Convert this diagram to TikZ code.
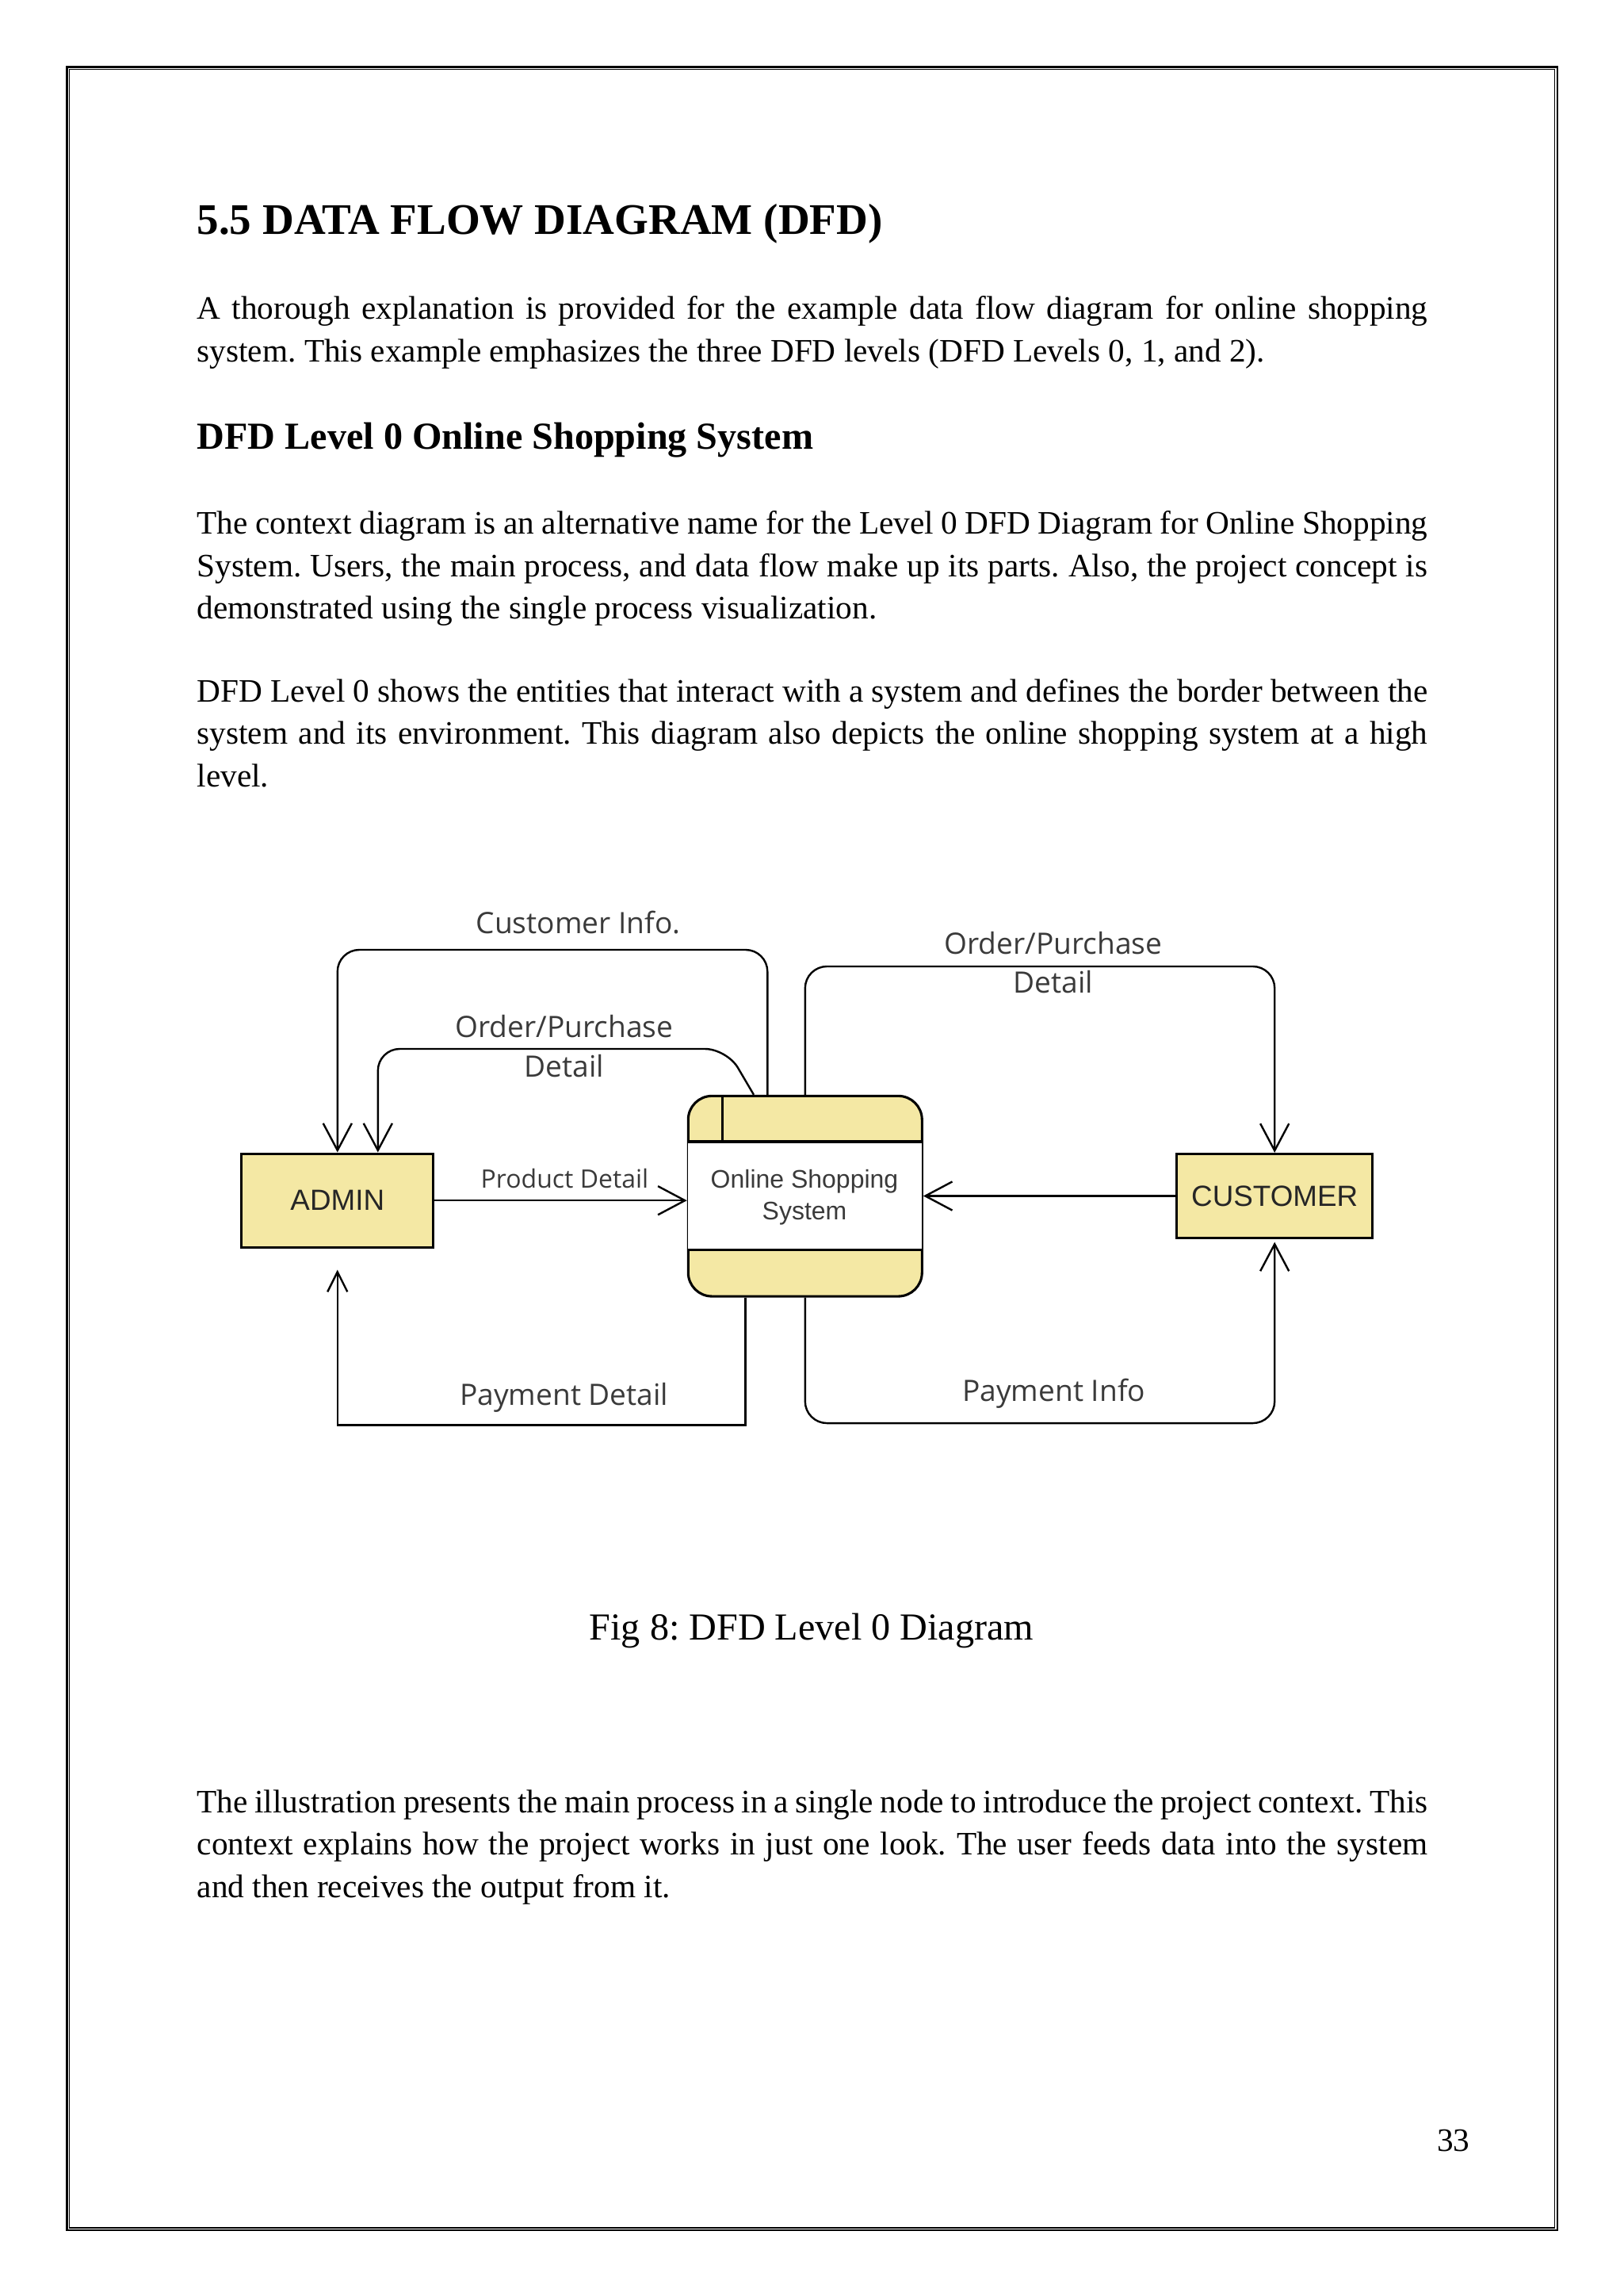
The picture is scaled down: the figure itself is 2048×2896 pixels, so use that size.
\documentclass[tikz,border=0pt]{standalone}
\usepackage{fontspec}
\setmainfont{Liberation Serif}
\newfontfamily\flowfont{Open Sans}
\newfontfamily\boxfont{Liberation Sans}
\usetikzlibrary{arrows.meta, calc}
\definecolor{dyellow}{HTML}{F4E8A4}
\definecolor{dgray}{HTML}{3A3A3A}
\newlength{\pxu}
\setlength{\pxu}{0.29067pt}
\frenchspacing
\tikzset{
entity/.style = {%
    rectangle, draw, line width=0.9pt, fill=dyellow,
    inner sep=0pt, font=\boxfont\fontsize{10.7}{13}\selectfont,
    text=black!85},
process/.style = {%
    rectangle, draw, line width=0.9pt, fill=dyellow, rounded corners=8.7pt,
    minimum width=295\pxu, minimum height=252.7\pxu, inner sep=0pt},
flow/.style = {%
    draw, line width=0.7pt, rounded corners=8pt,
    -{Straight Barb[length=9.9pt, width=10.5pt]}},
flowtext/.style = {%
    anchor=base, align=center, inner sep=0pt, text=dgray,
    font=\flowfont\fontsize{10.8}{14.4}\selectfont},
para/.style = {%
    anchor=base west, inner sep=0pt, text width=451.3pt, align=justify,
    font=\fontsize{12}{15.6}\selectfont}
}

\begin{document}
\begin{tikzpicture}[x=0.29067pt, y=-0.29067pt]
    % Page frame
    \useasboundingbox (0,0) rectangle (2048,2896);
    \draw[line width=0.6pt] (84.5,84.5) rectangle (1965,2813.3);
    \draw[line width=0.4pt] (87.8,87.8) rectangle (1961.7,2810);

    % Heading and text above the figure
    \node[anchor=base west, inner sep=0pt, font=\bfseries\fontsize{16}{19}\selectfont] (title) at (248,295) {5.5 DATA FLOW DIAGRAM (DFD)};
    \node[para] (intro) at (248,402.7) {A thorough explanation is provided for the example data flow diagram for online shopping\linebreak system. This example emphasizes the three DFD levels (DFD Levels 0, 1, and 2).};
    \node[anchor=base west, inner sep=0pt, font=\bfseries\fontsize{14}{17}\selectfont] (subtitle) at (248,566.8) {DFD Level 0 Online Shopping System};
    \node[para] (context) at (248,673.4) {The context diagram is an alternative name for the Level 0 DFD Diagram for Online Shopping\linebreak System. Users, the main process, and data flow make up its parts. Also, the project concept is\linebreak demonstrated using the single process visualization.};
    \node[para] (levelzero) at (248,885.3) {DFD Level 0 shows the entities that interact with a system and defines the border between the\linebreak system and its environment. This diagram also depicts the online shopping system at a high\linebreak level.};

    % Entities and the process
    \node[entity, minimum width=241.8\pxu, minimum height=118.3\pxu] (admin) at (425.8,1514.2) {ADMIN};
    \node[entity, minimum width=246.9\pxu, minimum height=106.2\pxu] (cust) at (1608.2,1508.5) {CUSTOMER};
    \node[process] (proc) at (1015.8,1508.7) {};

    % Process bands
    \coordinate (bandtop) at (0,1440);
    \coordinate (bandbot) at (0,1576.7);
    \fill[white] ([xshift=0.45pt]proc.west |- bandtop) rectangle ([xshift=-0.45pt]proc.east |- bandbot);
    \draw[line width=0.9pt] (proc.west |- bandtop) -- (proc.east |- bandtop);
    \draw[line width=0.9pt] (proc.west |- bandbot) -- (proc.east |- bandbot);
    \draw[line width=0.9pt] ([xshift=-104.1\pxu]proc.north) -- ([xshift=-104.1\pxu]proc.north |- bandtop);
    \node[anchor=base, inner sep=0pt, align=center, text=dgray,
          font=\boxfont\fontsize{9.3}{11.6}\selectfont] (proctext) at (1015,1538.3) {Online Shopping\\System};

    % Data flows
    \draw[flow] ([xshift=-47.5\pxu]proc.north) |- ([yshift=255.5\pxu]admin.north) -- (admin.north);
    \coordinate (bendleft) at (917,1323);
    \draw[flow] ([xshift=-64.8\pxu]proc.north) -- (bendleft) -| ([xshift=51\pxu]admin.north);
    \draw[flow] (proc.north) |- ([yshift=234.9\pxu]cust.north) -- (cust.north);
    \draw[flow] (admin.east) -- (admin.east -| proc.west);
    \draw[flow] (cust.west) -- (cust.west -| proc.east);
    \draw[flow, sharp corners, shorten >=26.7\pxu, -{Straight Barb[length=7.3pt, width=7.3pt]}]
        ([xshift=-75.5\pxu]proc.south) |- ([yshift=-222.7\pxu]admin.south) -- (admin.south);
    \draw[flow, shorten >=3.5\pxu] (proc.south) |- ([yshift=-231.9\pxu]cust.south) -- (cust.south);

    % Flow labels (base of two-line labels = last line)
    \node[flowtext] (lblinfo) at (729.6,1177) {Customer Info.};
    \node[flowtext] (lblorderl) at (712,1358) {Order/Purchase\\Detail};
    \node[flowtext] (lblorderr) at (1329,1252.7) {Order/Purchase\\Detail};
    \node[flowtext, font=\flowfont\fontsize{9.3}{11}\selectfont] (lblproduct) at (712.5,1498.3) {Product Detail};
    \node[flowtext] (lblpaydet) at (711.7,1772) {Payment Detail};
    \node[flowtext] (lblpayinfo) at (1329.6,1767.2) {Payment Info};

    % Caption and text below the figure
    \node[anchor=base, inner sep=0pt, font=\fontsize{14}{17}\selectfont] (caption) at (1024,2068) {Fig 8: DFD Level 0 Diagram};
    \node[para] (closing) at (248,2286) {The illustration presents the main process in a single node to introduce the project context. This\linebreak context explains how the project works in just one look. The user feeds data into the system\linebreak and then receives the output from it.};
    \node[anchor=base east, inner sep=0pt, font=\fontsize{12}{14}\selectfont] (pageno) at (1855,2713) {33};
\end{tikzpicture}
\end{document}
